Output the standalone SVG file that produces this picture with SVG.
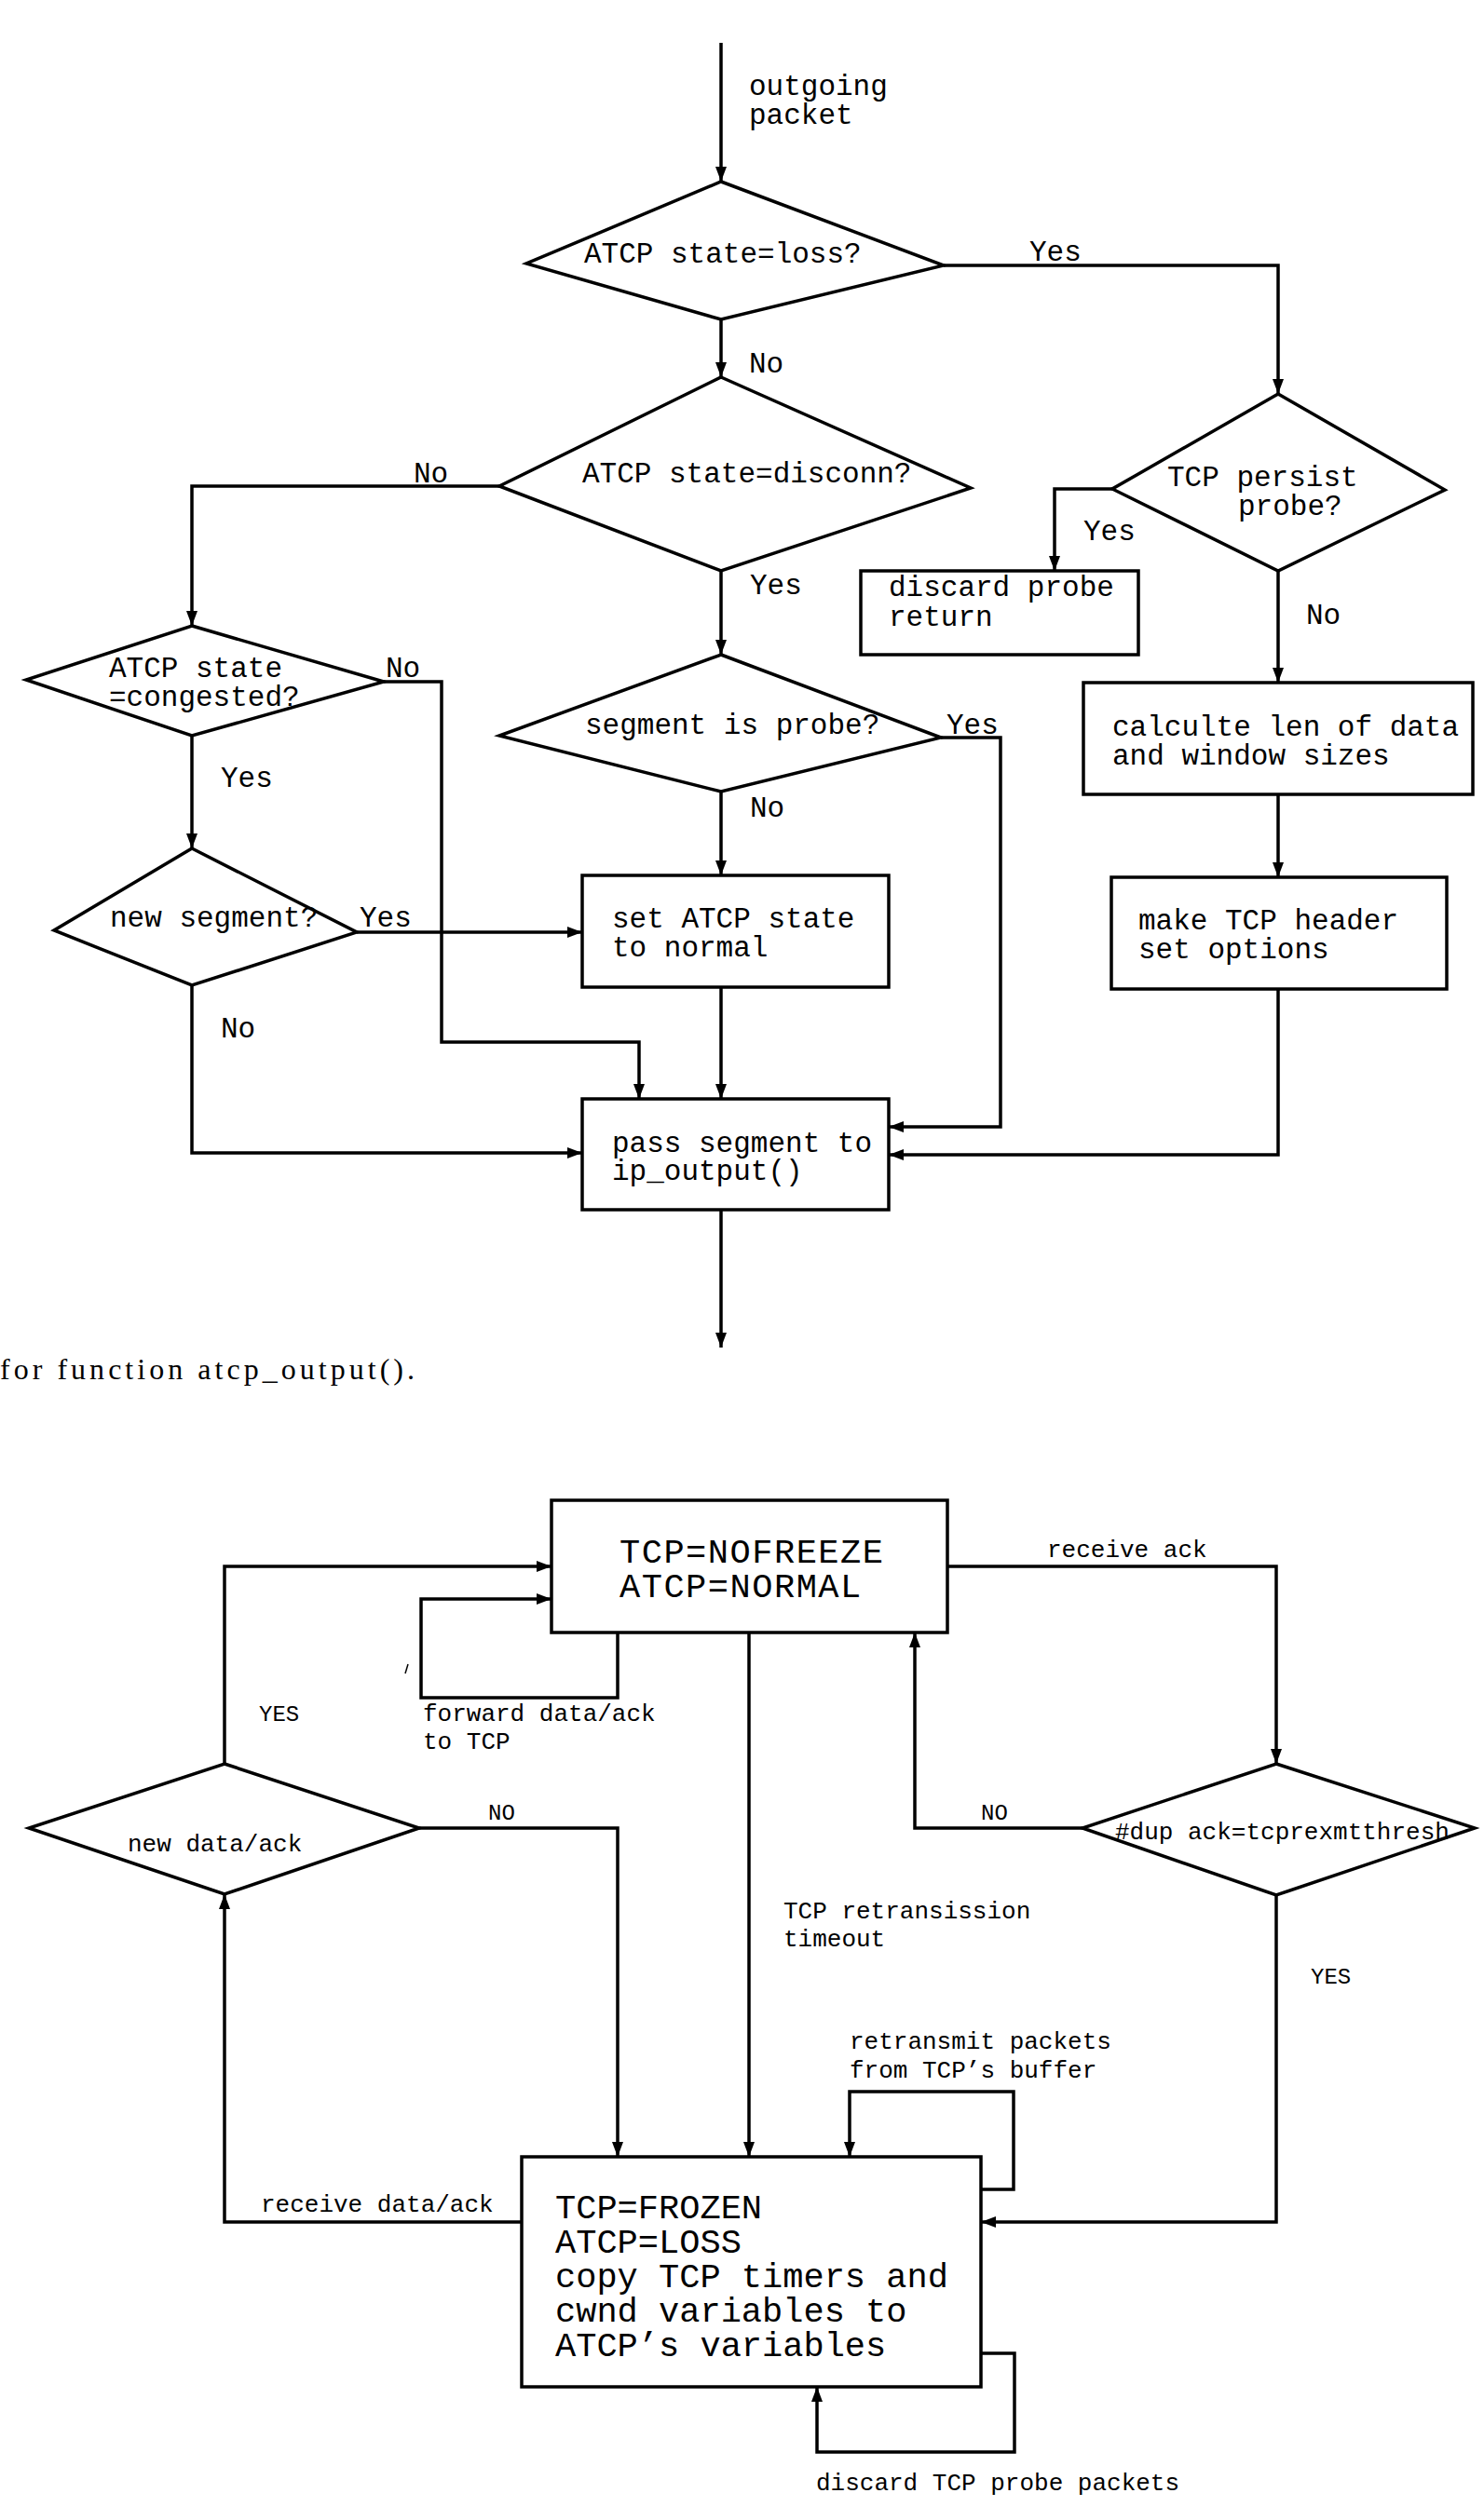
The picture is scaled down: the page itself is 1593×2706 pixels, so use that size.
<svg xmlns="http://www.w3.org/2000/svg" width="1593" height="2706" viewBox="0 0 1593 2706">
<style>
.bg{fill:#fff}
.ln{fill:none;stroke:#000;stroke-width:3.5;stroke-linejoin:miter}
.sh{fill:#fff;stroke:#000;stroke-width:3.5}
.t{font-family:"Liberation Mono","Courier New",monospace;fill:#000}
.f31{font-size:31px}
.f37{font-size:37px}
.f26{font-size:26px}
.f24{font-size:24px}
.cap{font-family:"Liberation Serif","Times New Roman",serif;font-size:32px;fill:#000}
</style>
<defs>
<marker id="arr" viewBox="0 0 16 12" refX="16" refY="6" markerWidth="16" markerHeight="12" markerUnits="userSpaceOnUse" orient="auto"><path d="M0,0 L16,6 L0,12 z" fill="#000"/></marker>
</defs>
<rect class="bg" x="0" y="0" width="1593" height="2706"/>

<g id="connectors-top">
<path class="ln" d="M774,46 V195" marker-end="url(#arr)"/>
<path class="ln" d="M774,343 V405" marker-end="url(#arr)"/>
<path class="ln" d="M1013,285 H1372 V423" marker-end="url(#arr)"/>
<path class="ln" d="M536,522 H206 V672" marker-end="url(#arr)"/>
<path class="ln" d="M774,613 V703" marker-end="url(#arr)"/>
<path class="ln" d="M1194,525 H1132 V613" marker-end="url(#arr)"/>
<path class="ln" d="M1372,613 V733" marker-end="url(#arr)"/>
<path class="ln" d="M412,732 H474 V1119 H686 V1180" marker-end="url(#arr)"/>
<path class="ln" d="M1010,792 H1074 V1210 H954" marker-end="url(#arr)"/>
<path class="ln" d="M206,790 V911" marker-end="url(#arr)"/>
<path class="ln" d="M774,850 V940" marker-end="url(#arr)"/>
<path class="ln" d="M1372,853 V942" marker-end="url(#arr)"/>
<path class="ln" d="M383,1001 H625" marker-end="url(#arr)"/>
<path class="ln" d="M774,1060 V1180" marker-end="url(#arr)"/>
<path class="ln" d="M206,1058 V1238 H625" marker-end="url(#arr)"/>
<path class="ln" d="M1372,1062 V1240 H954" marker-end="url(#arr)"/>
<path class="ln" d="M774,1299 V1447" marker-end="url(#arr)"/>
<text class="t f31" x="804" y="102">outgoing</text>
<text class="t f31" x="804" y="133">packet</text>
<text class="t f31" x="804" y="400">No</text>
<text class="t f31" x="1105" y="280">Yes</text>
<text class="t f31" x="444" y="518">No</text>
<text class="t f31" x="1163" y="580">Yes</text>
<text class="t f31" x="805" y="638">Yes</text>
<text class="t f31" x="1402" y="670">No</text>
<text class="t f31" x="414" y="727">No</text>
<text class="t f31" x="1016" y="788">Yes</text>
<text class="t f31" x="237" y="845">Yes</text>
<text class="t f31" x="805" y="877">No</text>
<text class="t f31" x="386" y="995">Yes</text>
<text class="t f31" x="237" y="1114">No</text>
</g>

<g id="d-loss">
<polygon class="sh" points="774,195 1013,285 774,343 565,283"/>
<text class="t f31" x="627" y="282">ATCP state=loss?</text>
</g>
<g id="d-disconn">
<polygon class="sh" points="774,405 1042,524 774,613 536,522"/>
<text class="t f31" x="625" y="518">ATCP state=disconn?</text>
</g>
<g id="d-persist">
<polygon class="sh" points="1372,423 1551,526 1372,613 1194,525"/>
<text class="t f31" x="1253" y="522">TCP persist</text>
<text class="t f31" x="1329" y="553">probe?</text>
</g>
<g id="b-discard">
<rect class="sh" x="924" y="613" width="298" height="90"/>
<text class="t f31" x="954" y="640">discard probe</text>
<text class="t f31" x="954" y="672">return</text>
</g>
<g id="d-congested">
<polygon class="sh" points="206,672 412,732 206,790 28,730"/>
<text class="t f31" x="117" y="727">ATCP state</text>
<text class="t f31" x="117" y="758">=congested?</text>
</g>
<g id="d-probe">
<polygon class="sh" points="774,703 1010,792 774,850 536,790"/>
<text class="t f31" x="628" y="788">segment is probe?</text>
</g>
<g id="b-calc">
<rect class="sh" x="1163" y="733" width="418" height="120"/>
<text class="t f31" x="1194" y="790">calculte len of data</text>
<text class="t f31" x="1194" y="821">and window sizes</text>
</g>
<g id="d-newseg">
<polygon class="sh" points="206,911 383,1001 206,1058 58,999"/>
<text class="t f31" x="118" y="995">new segment?</text>
</g>
<g id="b-setatcp">
<rect class="sh" x="625" y="940" width="329" height="120"/>
<text class="t f31" x="657" y="996">set ATCP state</text>
<text class="t f31" x="657" y="1027">to normal</text>
</g>
<g id="b-header">
<rect class="sh" x="1193" y="942" width="360" height="120"/>
<text class="t f31" x="1222" y="998">make TCP header</text>
<text class="t f31" x="1222" y="1029">set options</text>
</g>
<g id="b-pass">
<rect class="sh" x="625" y="1180" width="329" height="119"/>
<text class="t f31" x="657" y="1237">pass segment to</text>
<text class="t f31" x="657" y="1267">ip_output()</text>
</g>

<text id="caption" class="cap" x="0" y="1481" textLength="445">for function atcp_output().</text>

<g id="connectors-bottom">
<path class="ln" d="M241,1894 V1682 H592" marker-end="url(#arr)"/>
<path class="ln" d="M663,1753 V1823 H452 V1717 H592" marker-end="url(#arr)"/>
<path class="ln" d="M450,1963 H663 V2316" marker-end="url(#arr)"/>
<path class="ln" d="M560,2386 H241 V2034" marker-end="url(#arr)"/>
<path class="ln" d="M1017,1682 H1370 V1894" marker-end="url(#arr)"/>
<path class="ln" d="M1162,1963 H982 V1753" marker-end="url(#arr)"/>
<path class="ln" d="M804,1753 V2316" marker-end="url(#arr)"/>
<path class="ln" d="M1370,2035 V2386 H1053" marker-end="url(#arr)"/>
<path class="ln" d="M1053,2351 H1088 V2246 H912 V2316" marker-end="url(#arr)"/>
<path class="ln" d="M1053,2527 H1089 V2633 H877 V2563" marker-end="url(#arr)"/>
<path d="M435,1797 L438,1787" stroke="#000" stroke-width="1.5"/>
<text class="t f26" x="1124" y="1672">receive ack</text>
<text class="t f26" x="454" y="1848">forward data/ack</text>
<text class="t f26" x="454" y="1878">to TCP</text>
<text class="t f24" x="278" y="1848">YES</text>
<text class="t f24" x="524" y="1954">NO</text>
<text class="t f24" x="1053" y="1954">NO</text>
<text class="t f26" x="841" y="2060">TCP retransission</text>
<text class="t f26" x="841" y="2090">timeout</text>
<text class="t f24" x="1407" y="2130">YES</text>
<text class="t f26" x="912" y="2200">retransmit packets</text>
<text class="t f26" x="912" y="2231">from TCP’s buffer</text>
<text class="t f26" x="280" y="2375">receive data/ack</text>
<text class="t f26" x="876" y="2674">discard TCP probe packets</text>
</g>

<g id="b-nofreeze">
<rect class="sh" x="592" y="1611" width="425" height="142"/>
<text class="t f37" x="665" y="1678" letter-spacing="1.5">TCP=NOFREEZE</text>
<text class="t f37" x="665" y="1715" letter-spacing="1.5">ATCP=NORMAL</text>
</g>
<g id="d-newdata">
<polygon class="sh" points="241,1894 450,1963 241,2034 31,1963"/>
<text class="t f26" x="137" y="1988">new data/ack</text>
</g>
<g id="d-dupack">
<polygon class="sh" points="1370,1894 1583,1963 1370,2035 1162,1963"/>
<text class="t f26" x="1197" y="1975">#dup ack=tcprexmtthresh</text>
</g>
<g id="b-frozen">
<rect class="sh" x="560" y="2316" width="493" height="247"/>
<text class="t f37" x="596" y="2382">TCP=FROZEN</text>
<text class="t f37" x="596" y="2419">ATCP=LOSS</text>
<text class="t f37" x="596" y="2456">copy TCP timers and</text>
<text class="t f37" x="596" y="2493">cwnd variables to</text>
<text class="t f37" x="596" y="2530">ATCP’s variables</text>
</g>
</svg>
